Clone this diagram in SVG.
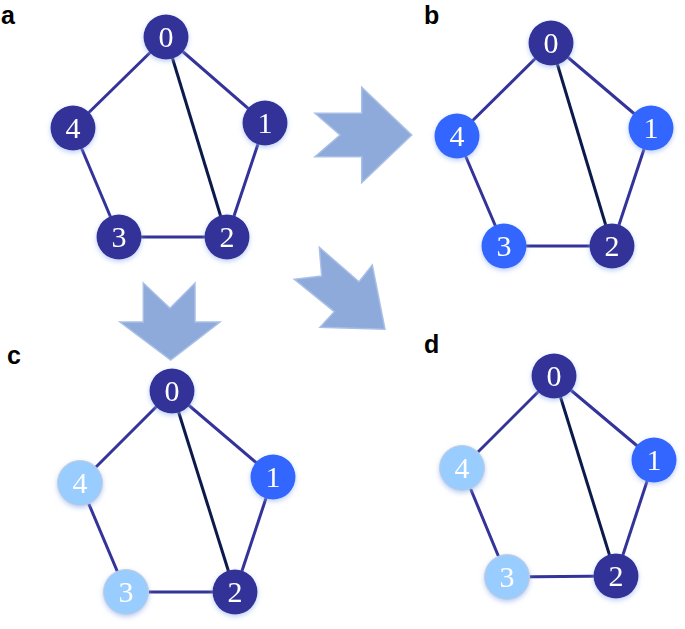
<svg xmlns="http://www.w3.org/2000/svg" width="685" height="629" viewBox="0 0 685 629">
<defs>
<filter id="glow" x="-40%" y="-40%" width="180%" height="180%">
<feGaussianBlur in="SourceAlpha" stdDeviation="2.5"/>
<feOffset dy="2" result="b"/>
<feFlood flood-color="#8FAEF0" flood-opacity="0.6"/>
<feComposite in2="b" operator="in"/>
<feMerge><feMergeNode/><feMergeNode in="SourceGraphic"/></feMerge>
</filter>
</defs>
<style>
.e{stroke:#333399;stroke-width:3;fill:none}
.e2{stroke:#0B1A4A;stroke-width:3;fill:none}
.n circle{stroke:none}
.dk{fill:#333399}
.bb{fill:#3366FF}
.lb{fill:#99CCFF;stroke:#C8CCD4 !important;stroke-width:1 !important}
.t{font-family:"Liberation Serif","Times New Roman",serif;font-size:30px;fill:#FFFFFF;text-anchor:middle}
.lab{font-family:"Liberation Sans",Arial,sans-serif;font-weight:bold;font-size:25px;fill:#000000}
.arr{fill:#8EAADB;stroke:#A9C0E6;stroke-width:1.5;stroke-linejoin:miter}
</style>
<rect width="685" height="629" fill="#FFFFFF"/>

<text class="lab" x="1" y="24">a</text>
<text class="lab" x="424" y="24">b</text>
<text class="lab" x="7" y="364">c</text>
<text class="lab" x="424" y="353">d</text>

<g id="arrows">
<polygon class="arr" points="315,113.3 361.7,113.3 361.7,87.3 411.7,135 361.7,182.7 361.7,156.7 315,156.7 340,135"/>
<polygon class="arr" points="143.3,283 170,308.3 195,283 195,322 220,322 170.7,360 120,322 143.3,322"/>
<polygon class="arr" points="319.3,247.3 359,281.7 372.3,265 385,329.3 320,327.3 334.3,311.7 294.3,279.3 321.7,276"/>
</g>

<g id="connectors">
<!-- a -->
<line class="e" x1="166" y1="37" x2="73" y2="128"/>
<line class="e" x1="166" y1="37" x2="265" y2="123"/>
<line class="e" x1="73" y1="128" x2="119" y2="237"/>
<line class="e" x1="265" y1="123" x2="227" y2="237"/>
<line class="e" x1="119" y1="237" x2="227" y2="237"/>
<line class="e2" x1="166" y1="37" x2="227" y2="237"/>
<!-- b -->
<line class="e" x1="551" y1="43" x2="457" y2="136"/>
<line class="e" x1="551" y1="43" x2="651" y2="128"/>
<line class="e" x1="457" y1="136" x2="504" y2="246"/>
<line class="e" x1="651" y1="128" x2="612" y2="246"/>
<line class="e" x1="504" y1="246" x2="612" y2="246"/>
<line class="e2" x1="551" y1="43" x2="612" y2="246"/>
<!-- c -->
<line class="e" x1="172" y1="391" x2="80" y2="483"/>
<line class="e" x1="172" y1="391" x2="273" y2="477"/>
<line class="e" x1="80" y1="483" x2="126" y2="592"/>
<line class="e" x1="273" y1="477" x2="235" y2="592"/>
<line class="e" x1="126" y1="592" x2="235" y2="592"/>
<line class="e2" x1="172" y1="391" x2="235" y2="592"/>
<!-- d -->
<line class="e" x1="554" y1="376" x2="462" y2="468"/>
<line class="e" x1="554" y1="376" x2="654" y2="460"/>
<line class="e" x1="462" y1="468" x2="507" y2="577"/>
<line class="e" x1="654" y1="460" x2="616" y2="576"/>
<line class="e" x1="507" y1="577" x2="616" y2="576"/>
<line class="e2" x1="554" y1="376" x2="616" y2="576"/>
</g>

<g id="panel-a">
<g id="a0" class="n" filter="url(#glow)"><circle class="dk" cx="166" cy="37" r="22.5"/><text class="t" x="166" y="47">0</text></g>
<g id="a1" class="n" filter="url(#glow)"><circle class="dk" cx="265" cy="123" r="22.5"/><text class="t" x="265" y="133">1</text></g>
<g id="a2" class="n" filter="url(#glow)"><circle class="dk" cx="227" cy="237" r="22.5"/><text class="t" x="227" y="247">2</text></g>
<g id="a3" class="n" filter="url(#glow)"><circle class="dk" cx="119" cy="237" r="22.5"/><text class="t" x="119" y="247">3</text></g>
<g id="a4" class="n" filter="url(#glow)"><circle class="dk" cx="73" cy="128" r="22.5"/><text class="t" x="73" y="138">4</text></g>
</g>

<g id="panel-b">
<g id="b0" class="n" filter="url(#glow)"><circle class="dk" cx="551" cy="43" r="22.5"/><text class="t" x="551" y="53">0</text></g>
<g id="b1" class="n" filter="url(#glow)"><circle class="bb" cx="651" cy="128" r="22.5"/><text class="t" x="651" y="138">1</text></g>
<g id="b2" class="n" filter="url(#glow)"><circle class="dk" cx="612" cy="246" r="22.5"/><text class="t" x="612" y="256">2</text></g>
<g id="b3" class="n" filter="url(#glow)"><circle class="bb" cx="504" cy="246" r="22.5"/><text class="t" x="504" y="256">3</text></g>
<g id="b4" class="n" filter="url(#glow)"><circle class="bb" cx="457" cy="136" r="22.5"/><text class="t" x="457" y="146">4</text></g>
</g>

<g id="panel-c">
<g id="c0" class="n" filter="url(#glow)"><circle class="dk" cx="172" cy="391" r="22.5"/><text class="t" x="172" y="401">0</text></g>
<g id="c1" class="n" filter="url(#glow)"><circle class="bb" cx="273" cy="477" r="22.5"/><text class="t" x="273" y="487">1</text></g>
<g id="c2" class="n" filter="url(#glow)"><circle class="dk" cx="235" cy="592" r="22.5"/><text class="t" x="235" y="602">2</text></g>
<g id="c3" class="n" filter="url(#glow)"><circle class="lb" cx="126" cy="592" r="22.5"/><text class="t" x="126" y="602">3</text></g>
<g id="c4" class="n" filter="url(#glow)"><circle class="lb" cx="80" cy="483" r="22.5"/><text class="t" x="80" y="493">4</text></g>
</g>

<g id="panel-d">
<g id="d0" class="n" filter="url(#glow)"><circle class="dk" cx="554" cy="376" r="22.5"/><text class="t" x="554" y="386">0</text></g>
<g id="d1" class="n" filter="url(#glow)"><circle class="bb" cx="654" cy="460" r="22.5"/><text class="t" x="654" y="470">1</text></g>
<g id="d2" class="n" filter="url(#glow)"><circle class="dk" cx="616" cy="576" r="22.5"/><text class="t" x="616" y="586">2</text></g>
<g id="d3" class="n" filter="url(#glow)"><circle class="lb" cx="507" cy="577" r="22.5"/><text class="t" x="507" y="587">3</text></g>
<g id="d4" class="n" filter="url(#glow)"><circle class="lb" cx="462" cy="468" r="22.5"/><text class="t" x="462" y="478">4</text></g>
</g>
</svg>
